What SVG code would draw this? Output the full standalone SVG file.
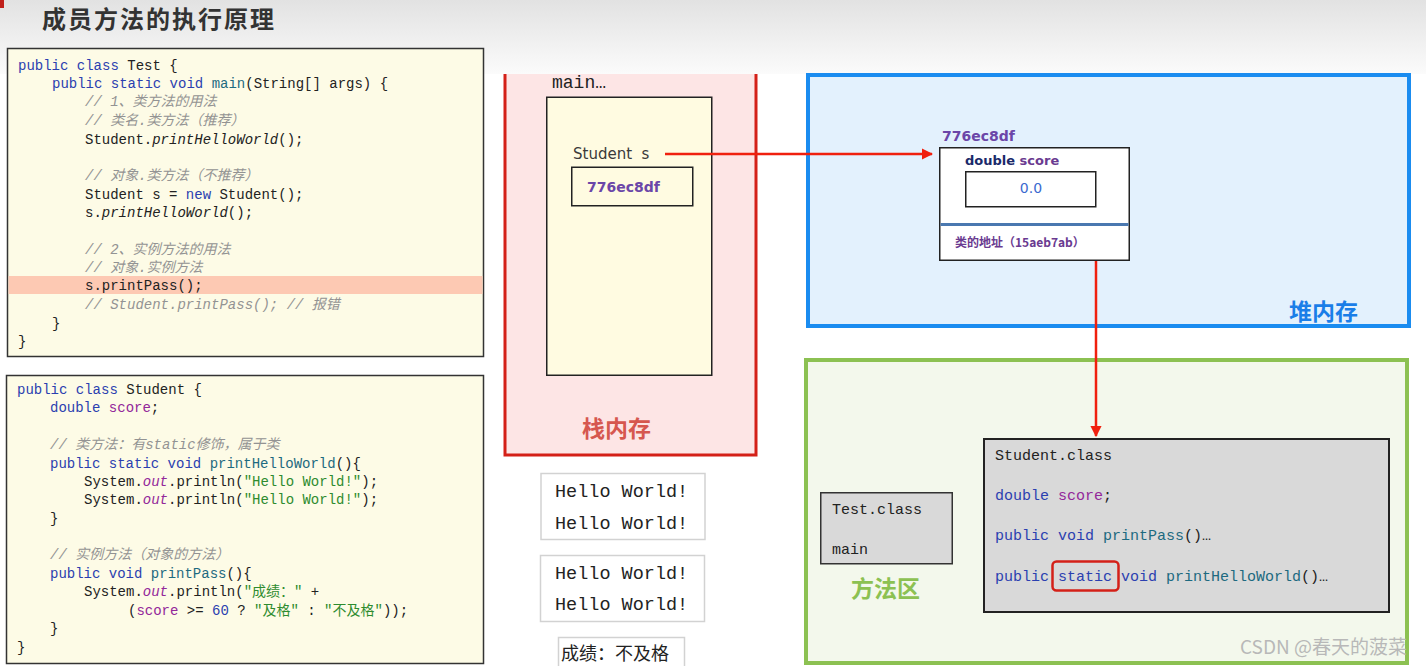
<svg xmlns="http://www.w3.org/2000/svg" width="1426" height="666" viewBox="0 0 1426 666">
<defs>
<linearGradient id="bg" x1="0" y1="0" x2="0" y2="1">
<stop offset="0" stop-color="#e2e2e2"/>
<stop offset="1" stop-color="#fbfbfb"/>
</linearGradient>
<marker id="ah" viewBox="0 0 10 10" refX="9" refY="5" markerWidth="4.5" markerHeight="4.5" orient="auto" markerUnits="strokeWidth">
<path d="M0,0 L10,5 L0,10 z" fill="#f0200e"/>
</marker>
<style>
.code{font-family:"Liberation Mono","Noto Sans CJK SC",monospace;font-size:14px;fill:#222;white-space:pre}
.kw{fill:#2b3fb0}
.fn{fill:#1d6a80}
.cm{fill:#939393;font-style:italic}
.it{font-style:italic}
.str{fill:#2e8b2e}
.fld{fill:#93279a}
.mono15{font-family:"Liberation Mono",monospace;font-size:15px;fill:#222;white-space:pre}
.hw{font-family:"Liberation Mono",monospace;font-size:18.5px;fill:#222}
.big{font-family:"Noto Sans CJK SC",sans-serif;font-size:23px;font-weight:bold}
.conn{stroke:#f0200e;stroke-width:2.5;fill:none}
</style>
</defs>
<rect x="0" y="0" width="1426" height="666" fill="#ffffff"/>
<rect x="0" y="0" width="1426" height="74" fill="url(#bg)"/>
<rect x="0" y="0" width="4" height="8" fill="#c0201a"/>
<text x="42" y="28" font-family="Noto Sans CJK SC, sans-serif" font-size="24" font-weight="bold" fill="#333" letter-spacing="2">成员方法的执行原理</text>

<g id="code-test">
<rect x="7.5" y="48.5" width="476" height="308" fill="#fdfbe6" stroke="#333" stroke-width="1.5"/>
<rect x="8.5" y="276" width="474" height="18" fill="#fdc9b3"/>
<text class="code" x="18" y="70"><tspan class="kw">public class</tspan> Test {</text>
<text class="code" x="52" y="88"><tspan class="kw">public static void</tspan> <tspan class="fn">main</tspan>(String[] args) {</text>
<text class="code cm" x="85" y="106">// 1、类方法的用法</text>
<text class="code cm" x="85" y="125">// 类名.类方法（推荐）</text>
<text class="code" x="85" y="144">Student.<tspan class="it">printHelloWorld</tspan>();</text>
<text class="code cm" x="85" y="180">// 对象.类方法（不推荐）</text>
<text class="code" x="85" y="199">Student s = <tspan class="kw">new</tspan> Student();</text>
<text class="code" x="85" y="217">s.<tspan class="it">printHelloWorld</tspan>();</text>
<text class="code cm" x="85" y="254">// 2、实例方法的用法</text>
<text class="code cm" x="85" y="272">// 对象.实例方法</text>
<text class="code" x="85" y="290">s.printPass();</text>
<text class="code cm" x="85" y="309">// Student.printPass(); // 报错</text>
<text class="code" x="52" y="328">}</text>
<text class="code" x="18" y="346">}</text>
</g>

<g id="code-student">
<rect x="6.5" y="375.5" width="477" height="288" fill="#fdfbe6" stroke="#333" stroke-width="1.5"/>
<text class="code" x="17" y="394"><tspan class="kw">public class</tspan> Student {</text>
<text class="code" x="50" y="412"><tspan class="kw">double</tspan> <tspan class="fld">score</tspan>;</text>
<text class="code cm" x="50" y="449">// 类方法：有static修饰，属于类</text>
<text class="code" x="50" y="468"><tspan class="kw">public static void</tspan> <tspan class="fn">printHelloWorld</tspan>(){</text>
<text class="code" x="84" y="486">System.<tspan class="fld it">out</tspan>.println(<tspan class="str">"Hello World!"</tspan>);</text>
<text class="code" x="84" y="504">System.<tspan class="fld it">out</tspan>.println(<tspan class="str">"Hello World!"</tspan>);</text>
<text class="code" x="50" y="523">}</text>
<text class="code cm" x="50" y="559">// 实例方法（对象的方法）</text>
<text class="code" x="50" y="578"><tspan class="kw">public void</tspan> <tspan class="fn">printPass</tspan>(){</text>
<text class="code" x="84" y="596">System.<tspan class="fld it">out</tspan>.println(<tspan class="str">"成绩："</tspan> +</text>
<text class="code" x="128" y="615">(<tspan class="fld">score</tspan> &gt;= <tspan class="kw">60</tspan> ? <tspan class="str">"及格"</tspan> : <tspan class="str">"不及格"</tspan>));</text>
<text class="code" x="50" y="633">}</text>
<text class="code" x="17" y="652">}</text>
</g>

<g id="stack">
<rect x="505" y="74" width="251" height="381" fill="#fde5e5"/>
<path d="M505,74 V455 H756 V74" fill="none" stroke="#d42018" stroke-width="3"/>
<text x="552" y="88" font-family="Liberation Mono, monospace" font-size="18" fill="#222">main…</text>
<rect x="546.75" y="97.25" width="165" height="278" fill="#fffbe1" stroke="#222" stroke-width="1.5"/>
<text x="573" y="158.5" font-family="DejaVu Sans, sans-serif" font-size="15" fill="#3a3a3a" style="white-space:pre">Student  s</text>
<rect x="571.75" y="167.25" width="121" height="38.5" fill="#fffbe1" stroke="#222" stroke-width="1.5"/>
<text x="587" y="192" font-family="DejaVu Sans, sans-serif" font-size="14" font-weight="bold" fill="#6b46a8">776ec8df</text>
<text class="big" x="582" y="437" fill="#d6574f">栈内存</text>
</g>

<g id="output">
<rect x="541" y="473.5" width="164" height="66" fill="#fff" stroke="#d2d2d2" stroke-width="1.5"/>
<text class="hw" x="555" y="497">Hello World!</text>
<text class="hw" x="555" y="529">Hello World!</text>
<rect x="540.5" y="555.5" width="164" height="66" fill="#fff" stroke="#d2d2d2" stroke-width="1.5"/>
<text class="hw" x="555" y="579">Hello World!</text>
<text class="hw" x="555" y="610">Hello World!</text>
<rect x="558.5" y="637.5" width="126" height="32" fill="#fff" stroke="#d2d2d2" stroke-width="1.5"/>
<text x="561" y="659.5" font-family="Noto Sans CJK SC, sans-serif" font-size="18" fill="#222">成绩：不及格</text>
</g>

<g id="heap">
<rect x="808" y="75" width="601" height="251" fill="#e3f1fd" stroke="#1a8cf0" stroke-width="4"/>
<text class="big" x="1289" y="320" fill="#1a7ee8">堆内存</text>
</g>

<g id="object">
<text x="942" y="141" font-family="DejaVu Sans, sans-serif" font-size="14" font-weight="bold" fill="#6b46a8">776ec8df</text>
<rect x="939.75" y="147.75" width="189.5" height="112.5" fill="#fff" stroke="#222" stroke-width="1.5"/>
<text x="965" y="165" font-family="DejaVu Sans, sans-serif" font-size="13" font-weight="bold"><tspan fill="#1a2a6a">double</tspan> <tspan fill="#6a3a90">score</tspan></text>
<rect x="965.75" y="171.75" width="130" height="35" fill="#fff" stroke="#222" stroke-width="1.5"/>
<text x="1031" y="193" font-family="DejaVu Sans, sans-serif" font-size="14" fill="#3a6ad0" text-anchor="middle">0.0</text>
<line x1="940.5" y1="224.5" x2="1128.5" y2="224.5" stroke="#4a78b0" stroke-width="3"/>
<text x="955" y="247" font-family="Noto Sans CJK SC, sans-serif" font-size="12" font-weight="bold" fill="#6a3a90">类的地址（15aeb7ab）</text>
</g>

<g id="method-area">
<rect x="806" y="360" width="601" height="303" fill="#f3f8ec" stroke="#8cc152" stroke-width="4"/>
<text class="big" x="851" y="597" fill="#8cc152">方法区</text>
</g>

<g id="test-class">
<rect x="820.75" y="492.75" width="131.5" height="71" fill="#d9d9d9" stroke="#333" stroke-width="1.5"/>
<text class="mono15" x="832" y="514">Test.class</text>
<text class="mono15" x="832" y="554">main</text>
</g>

<g id="student-class">
<rect x="984" y="439" width="405" height="173" fill="#d9d9d9" stroke="#222" stroke-width="2"/>
<text class="mono15" x="995" y="460">Student.class</text>
<text class="mono15" x="995" y="500"><tspan fill="#2b3fb0">double</tspan> <tspan fill="#93279a">score</tspan>;</text>
<text class="mono15" x="995" y="540"><tspan fill="#2b3fb0">public void</tspan> <tspan fill="#1d6a80">printPass</tspan>()…</text>
<text class="mono15" x="995" y="581"><tspan fill="#2b3fb0">public static void</tspan> <tspan fill="#1d6a80">printHelloWorld</tspan>()…</text>
<rect x="1052.5" y="561.5" width="66" height="29" rx="4" fill="none" stroke="#d42018" stroke-width="2.5"/>
</g>

<g id="connectors">
<line class="conn" x1="665" y1="154" x2="932" y2="154" marker-end="url(#ah)"/>
<line class="conn" x1="1096" y1="261" x2="1096" y2="436" marker-end="url(#ah)"/>
</g>

<text x="1240" y="654" font-family="Noto Sans CJK SC, sans-serif" font-size="19" fill="#b8b8b8">CSDN @春天的菠菜</text>
</svg>
